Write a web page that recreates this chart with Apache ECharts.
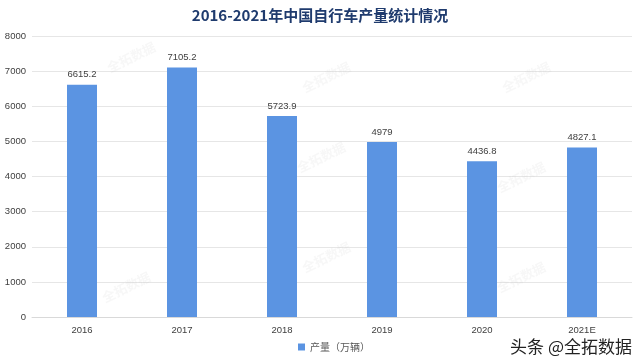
<!DOCTYPE html>
<html><head><meta charset="utf-8">
<script src="https://cdn.jsdelivr.net/npm/echarts@6/dist/echarts.min.js"></script>
<style>html,body{margin:0;padding:0;background:#fff}#c{width:640px;height:363px}</style>
</head><body><div id="c"></div>
<script>
var categories = ['2016','2017','2018','2019','2020','2021E'];
var values = [6615.2, 7105.2, 5723.9, 4979, 4436.8, 4827.1];
var seriesName = '产量（万辆）';
var chart = echarts.init(document.getElementById('c'));
var wm = [];
var wmPos = [[105,40],[300,60],[500,60],[295,140],[495,160],[100,270],[300,240],[495,260]];
wmPos.forEach(function(p){
  wm.push({type:'text', left:p[0], top:p[1], rotation:0.45, silent:true, z:100,
    style:{text:'全拓数据', fill:'rgba(190,190,190,0.13)', font:'bold 13px "Noto Sans CJK SC"'}});
});
wm.push({type:'text', right:8, bottom:8, z:100, style:{text:'头条 @全拓数据', fill:'#222', font:'17px "Noto Sans CJK SC"'}});
chart.setOption({
  animation:false,
  title:{text:'2016-2021年中国自行车产量统计情况', left:'center', top:3,
    textStyle:{color:'#1f3b6e', fontSize:15, fontWeight:'bold', fontFamily:'Noto Sans CJK SC'}},
  grid:{left:32, right:8, top:36, bottom:46, outerBoundsMode:'none', containLabel:false},
  legend:{left:293, bottom:6, itemWidth:7, itemHeight:7, icon:'rect', itemGap:4,
    textStyle:{color:'#595959', fontSize:10, fontFamily:'Noto Sans CJK SC'}},
  xAxis:{type:'category', data:categories,
    axisLine:{lineStyle:{color:'#d9d9d9'}}, axisTick:{show:false},
    axisLabel:{color:'#404040', fontSize:9.5, margin:8, fontFamily:'Liberation Sans'}},
  yAxis:{type:'value', min:0, max:8000, interval:1000,
    axisLine:{show:false}, axisTick:{show:false},
    splitLine:{lineStyle:{color:'#e6e6e6'}},
    axisLabel:{color:'#404040', fontSize:9.5, margin:6, fontFamily:'Liberation Sans',
      formatter:function(v){return String(v);}}},
  series:[{name:seriesName, type:'bar', data:values, barWidth:'30%',
    itemStyle:{color:'#5b94e2'},
    label:{show:true, position:'top', color:'#404040', fontSize:9.5, distance:5, fontFamily:'Liberation Sans'}}],
  graphic:wm
});
</script></body></html>
